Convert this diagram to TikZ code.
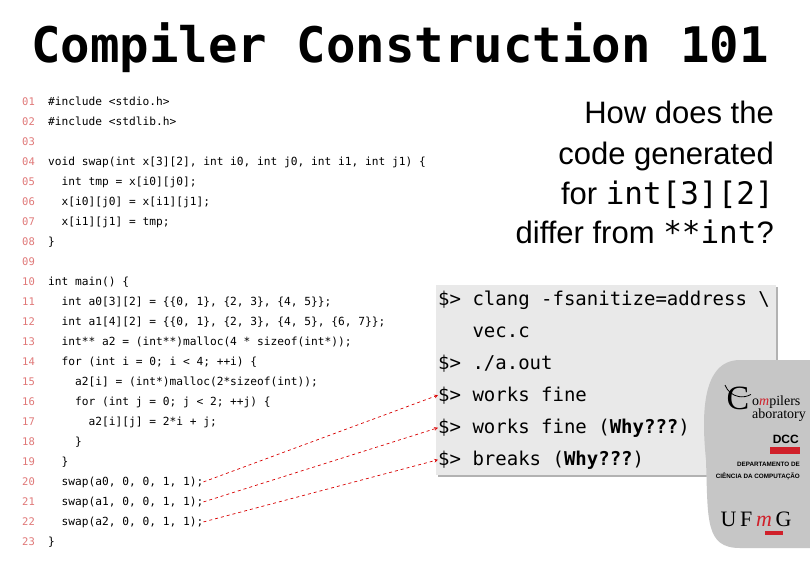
\documentclass[tikz,border=0pt]{standalone}
\usepackage{fontspec}
\setmainfont{Liberation Sans}
\newfontfamily\cmono{DejaVu Sans Mono}
\newfontfamily\logoserif{Liberation Serif}
\usetikzlibrary{shadows}
\definecolor{lnred}{HTML}{E07878}
\definecolor{termgray}{HTML}{E9E9E9}
\definecolor{logogray}{HTML}{C6C6C6}
\definecolor{dccred}{HTML}{D0202A}
\tikzset{
  ln/.style={anchor=base west,font=\cmono\fontsize{10.5}{12}\selectfont,text=lnred,inner sep=0},
  cl/.style={anchor=base west,font=\cmono\fontsize{11.2}{12}\selectfont,inner sep=0},
  tl/.style={anchor=base west,font=\cmono\fontsize{19}{22}\selectfont,inner sep=0},
  q/.style={anchor=base east,font=\fontsize{31}{34}\selectfont,inner sep=0},
  arr/.style={draw=red!85!black,dashed,line width=0.7pt,-stealth},
}
\begin{document}
\begin{tikzpicture}[x=1pt,y=-1pt]
\useasboundingbox (0,0) rectangle (810,571);
\fill[white] (0,0) rectangle (810,571);
\node[font=\cmono\bfseries\fontsize{49}{55}\selectfont,anchor=base] (title) at (400,62) {Compiler Construction 101};
% code
\foreach \n/\t [count=\i] in {
 01/{\#include <stdio.h>},
 02/{\#include <stdlib.h>},
 03/{},
 04/{void swap(int x[3][2], int i0, int j0, int i1, int j1) \{},
 05/{\ \ int tmp = x[i0][j0];},
 06/{\ \ x[i0][j0] = x[i1][j1];},
 07/{\ \ x[i1][j1] = tmp;},
 08/{\}},
 09/{},
 10/{int main() \{},
 11/{\ \ int a0[3][2] = \{\{0, 1\}, \{2, 3\}, \{4, 5\}\};},
 12/{\ \ int a1[4][2] = \{\{0, 1\}, \{2, 3\}, \{4, 5\}, \{6, 7\}\};},
 13/{\ \ int** a2 = (int**)malloc(4 * sizeof(int*));},
 14/{\ \ for (int i = 0; i < 4; ++i) \{},
 15/{\ \ \ \ a2[i] = (int*)malloc(2*sizeof(int));},
 16/{\ \ \ \ for (int j = 0; j < 2; ++j) \{},
 17/{\ \ \ \ \ \ a2[i][j] = 2*i + j;},
 18/{\ \ \ \ \}},
 19/{\ \ \}},
 20/{\ \ swap(a0, 0, 0, 1, 1);},
 21/{\ \ swap(a1, 0, 0, 1, 1);},
 22/{\ \ swap(a2, 0, 0, 1, 1);},
 23/{\}}}
{
 \node[ln] (n\i) at (22,{105+(\i-1)*20}) {\n};
 \node[cl] (c\i) at (48,{105+(\i-1)*20}) {\t};
}
% question
\node[q] (q1) at (774,123) {How does the};
\node[q] (q2) at (774,164) {code generated};
\node[q] (q3) at (774,204) {for {\cmono int[3][2]}};
\node[q] (q4) at (774,243) {differ from {\cmono **int}?};
% terminal
\node[draw=none,fill=termgray,drop shadow={shadow xshift=2pt,shadow yshift=-2pt,opacity=0.6},minimum width=340pt,minimum height=190pt,anchor=north west,inner sep=0] (term) at (436,285) {};
\node[tl] (t1) at (438,305) {\$> clang -fsanitize=address \textbackslash};
\node[tl] (t2) at (438,337) {\ \ \ vec.c};
\node[tl] (t3) at (438,369) {\$> ./a.out};
\node[tl] (t4) at (438,401) {\$> works fine};
\node[tl] (t5) at (438,433) {\$> works fine ({\bfseries Why???})};
\node[tl] (t6) at (438,465) {\$> breaks ({\bfseries Why???})};
% logo panel
\fill[logogray] (810,360) -- (740,360) .. controls (700,360) and (702,420) .. (706,460) .. controls (708,520) and (705,548) .. (740,548) -- (810,548) -- cycle;
\node[font=\logoserif\fontsize{14}{14}\selectfont,anchor=base west,inner sep=0] (lg1) at (752,405) {o{\color{dccred}\itshape m}pilers};
\node[font=\logoserif\fontsize{14}{14}\selectfont,anchor=base west,inner sep=0] (lg2) at (752,418) {aboratory};
\node[font=\logoserif\fontsize{34}{34}\selectfont,inner sep=0] (lgC) at (738,398) {C};
\draw[thick] (725,385) arc (160:60:18);
\node[font=\bfseries\fontsize{12}{12}\selectfont,anchor=base east,inner sep=0] (dcc) at (799,443) {DCC};
\fill[dccred] (770,447) rectangle (800,454);
\node[font=\bfseries\fontsize{6.3}{7}\selectfont,anchor=base east,inner sep=0] (dep) at (800,466) {DEPARTAMENTO DE};
\node[font=\bfseries\fontsize{6.3}{7}\selectfont,anchor=base east,inner sep=0] (cien) at (800,478) {CIÊNCIA DA COMPUTAÇÃO};
\node[font=\logoserif\fontsize{22}{22}\selectfont,anchor=base,inner sep=0] (ufmg) at (756,526) {U\,F\,{\color{dccred}\itshape m}\,G};
\fill[dccred] (765,531) rectangle (783,535);
% arrows
\draw[arr] (c20.east) -- (t4.west);
\draw[arr] (c21.east) -- (t5.west);
\draw[arr] (c22.east) -- (t6.west);
\end{tikzpicture}
\end{document}
